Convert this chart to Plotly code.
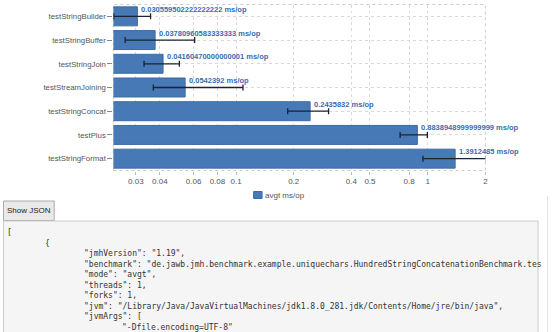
import math
import plotly.graph_objects as go

W, H = 552, 332

# ---- data ----
benchmarks = ["testStringBuilder", "testStringBuffer", "testStringJoin", "testStreamJoining",
              "testStringConcat", "testPlus", "testStringFormat"]
scores = [0.030559502222222222, 0.03780960583333333, 0.04160470000000001, 0.0542392,
          0.2435832, 0.8838948999999999, 1.3912485]
score_low = [0.0230, 0.0264, 0.0331, 0.0370, 0.186, 0.718, 0.945]
score_high = [0.0358, 0.0608, 0.0506, 0.1087, 0.304, 0.996, 2.017]
unit = "ms/op"
series_name = "avgt ms/op"
tick_vals = [0.03, 0.04, 0.06, 0.08, 0.1, 0.2, 0.4, 0.5, 0.8, 1, 2]
tick_text = ["0.03", "0.04", "0.06", "0.08", "0.1", "0.2", "0.4", "0.5", "0.8", "1", "2"]
x_min, x_max = 0.0229, 2.0

json_lines = [
    (0, "["),
    (1, "{"),
    (2, '"jmhVersion": "1.19",'),
    (2, '"benchmark": "de.jawb.jmh.benchmark.example.uniquechars.HundredStringConcatenationBenchmark.tes'),
    (2, '"mode": "avgt",'),
    (2, '"threads": 1,'),
    (2, '"forks": 1,'),
    (2, '"jvm": "/Library/Java/JavaVirtualMachines/jdk1.8.0_281.jdk/Contents/Home/jre/bin/java",'),
    (2, '"jvmArgs": ['),
    (3, '"-Dfile.encoding=UTF-8"'),
]

labels = [f"{v} {unit}" for v in scores]
err_plus = [h - v for h, v in zip(score_high, scores)]
err_minus = [v - l for l, v in zip(score_low, scores)]


def px(x):
    return x / W


def py(y):
    return 1 - y / H


BAR = "#4679b5"
BAR_LINE = "#3c6ba6"
GRID = "#d9d9d9"
TXT = "#555555"
FONT = "Liberation Sans, Arial, sans-serif"

fig = go.Figure()
fig.add_trace(go.Bar(
    y=benchmarks, x=scores, orientation="h", name=series_name,
    marker=dict(color=BAR, line=dict(color=BAR_LINE, width=1)),
    error_x=dict(type="data", symmetric=False, array=err_plus, arrayminus=err_minus,
                 color="#1c2230", thickness=1.3, width=3),
    hoverinfo="x+y", showlegend=False,
))

shapes = [
    # plot-area dotted frame
    dict(type="rect", xref="x domain", yref="y domain", x0=0, x1=1, y0=0, y1=1,
         line=dict(color="#cccccc", width=1, dash="dot"), layer="below"),
    # legend swatch
    dict(type="rect", xref="paper", yref="paper", x0=px(255), x1=px(263.5), y0=py(198.5), y1=py(191.5),
         line=dict(color=BAR_LINE, width=1), fillcolor=BAR),
    # Show JSON button
    dict(type="rect", xref="paper", yref="paper", x0=px(3.5), x1=px(54.5), y0=py(220.5), y1=py(201),
         line=dict(color="#aaaaaa", width=1), fillcolor="#e9e9e9"),
    # JSON pre box
    dict(type="rect", xref="paper", yref="paper", x0=px(3.5), x1=px(541), y0=py(340), y1=py(221),
         line=dict(color="#cccccc", width=1), fillcolor="#f5f5f5"),
    dict(type="line", xref="paper", yref="paper", x0=px(550.5), x1=px(550.5), y0=py(332), y1=py(196),
         line=dict(color="#e3e3e3", width=1)),
]

annotations = []
# value labels next to each bar
for b, v, lab in zip(benchmarks, scores, labels):
    annotations.append(dict(
        xref="x", yref="y", x=math.log10(v), y=b, text=lab, showarrow=False,
        xanchor="left", yanchor="middle", xshift=4, yshift=7,
        font=dict(family=FONT, size=7.5, color="#3a6cb0", weight="bold"),
        borderpad=0, borderwidth=0,
    ))
# legend text
annotations.append(dict(
    xref="paper", yref="paper", x=px(266), y=py(195), text=series_name, showarrow=False,
    xanchor="left", yanchor="middle", font=dict(family=FONT, size=8, color=TXT),
    borderpad=0, borderwidth=0,
))
# button label
annotations.append(dict(
    xref="paper", yref="paper", x=px(29), y=py(210.5), text="Show JSON", showarrow=False,
    xanchor="center", yanchor="middle", font=dict(family=FONT, size=8, color="#222222"),
    borderpad=0, borderwidth=0,
))
char_w = 4.82
x0_text = 7
line_h = 10.5
y_first = 232.5
for i, (lvl, s) in enumerate(json_lines):
    annotations.append(dict(
        xref="paper", yref="paper", x=px(x0_text + lvl * 8 * char_w), y=py(y_first + i * line_h),
        text=s.replace(" ", "&nbsp;"), showarrow=False, xanchor="left", yanchor="middle",
        font=dict(family="DejaVu Sans Mono, monospace", size=8, color="#333333"),
        borderpad=0, borderwidth=0,
    ))

fig.update_layout(
    width=W, height=H,
    margin=dict(l=0, r=0, t=0, b=0),
    paper_bgcolor="white", plot_bgcolor="white",
    font=dict(family=FONT, size=8, color=TXT),
    bargap=0.2,
    showlegend=False,
    xaxis=dict(type="log", domain=[px(114), px(488)],
               range=[math.log10(x_min), math.log10(x_max)],
               tickvals=tick_vals, ticktext=tick_text,
               showgrid=True, gridcolor=GRID, griddash="dot", gridwidth=1,
               zeroline=False, showline=False,
               ticks="outside", ticklen=3, tickcolor="#bbbbbb",
               tickfont=dict(family=FONT, size=8, color=TXT)),
    yaxis=dict(domain=[py(170.5), py(4.5)], autorange="reversed",
               categoryorder="array", categoryarray=benchmarks,
               showgrid=True, gridcolor=GRID, griddash="dot", gridwidth=1,
               zeroline=False, showline=False,
               ticks="outside", ticklen=5, tickcolor="#888888",
               tickfont=dict(family=FONT, size=7.8, color=TXT)),
    shapes=shapes,
    annotations=annotations,
)

fig.write_html("out.html")
